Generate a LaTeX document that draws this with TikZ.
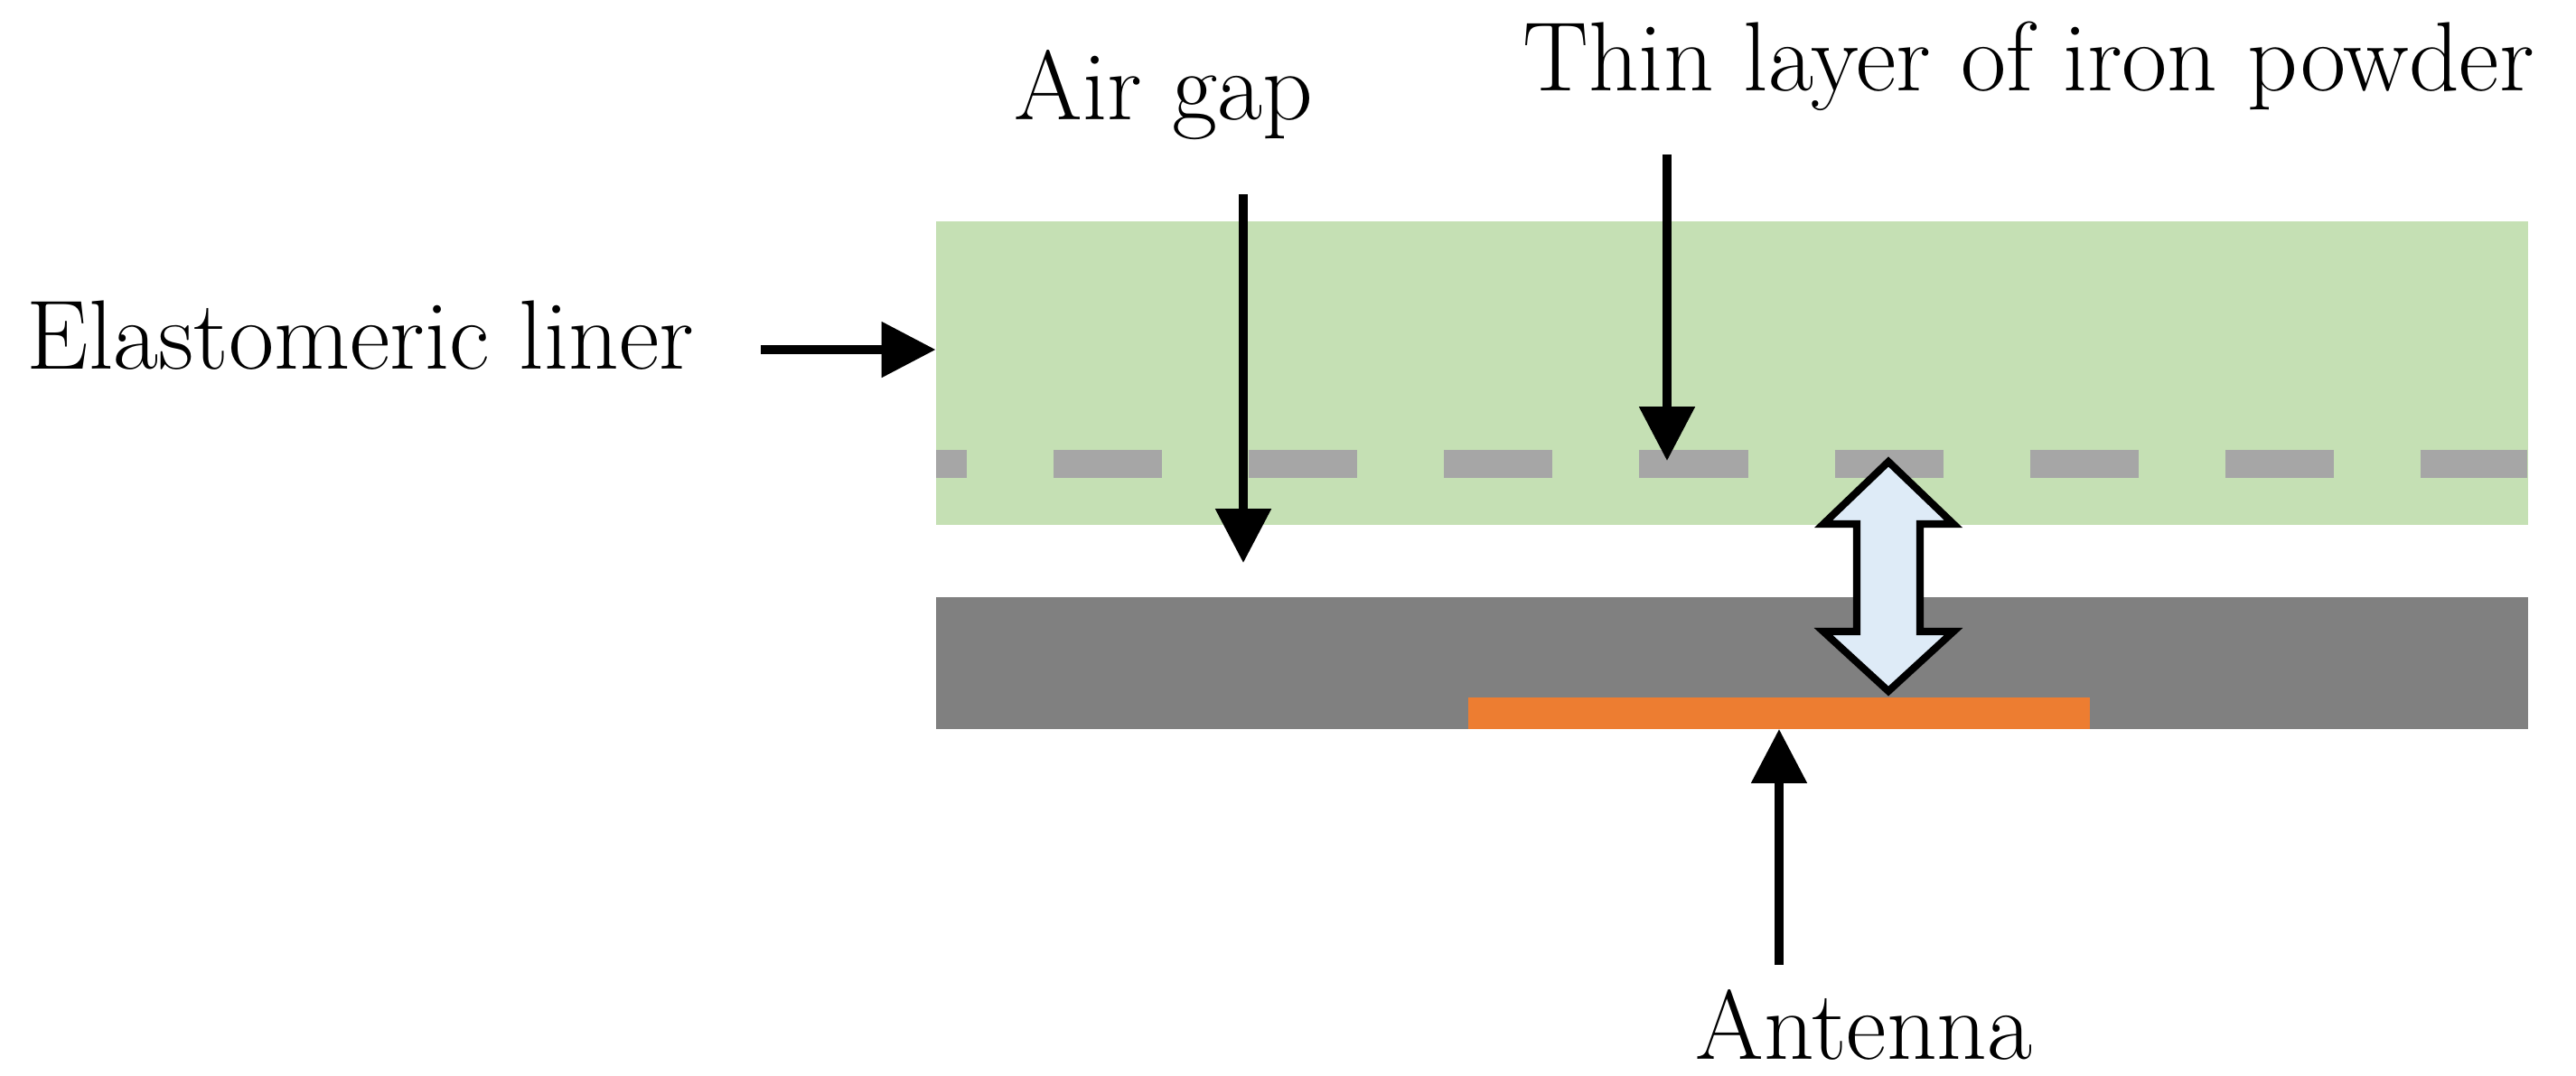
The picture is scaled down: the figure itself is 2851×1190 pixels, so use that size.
\documentclass[tikz,border=0pt]{standalone}
\usetikzlibrary{arrows.meta}
\definecolor{linergreen}{RGB}{197,224,180}
\definecolor{powdergray}{RGB}{166,166,166}
\definecolor{basegray}{RGB}{128,128,128}
\definecolor{antorange}{RGB}{237,125,49}
\definecolor{gapblue}{RGB}{222,235,247}
\tikzset{
  lbl/.style={font=\fontsize{31}{36}\selectfont, inner sep=0pt, anchor=base},
  ptr/.style={line width=2.6pt, -{Triangle[width=17pt,length=17pt]}},
  layer/.style={draw=none, inner sep=0pt, outer sep=0pt, rectangle}
}
\begin{document}
\begin{tikzpicture}[x=0.01cm, y=-0.01cm]
\useasboundingbox (0,0) rectangle (2851,1190);
% layers
\node[layer, fill=linergreen, minimum width=17.61cm, minimum height=3.36cm] (liner) at (1916.5,413) {};
\node[layer, fill=basegray, minimum width=17.61cm, minimum height=1.46cm] (base) at (1916.5,734) {};
\node[layer, fill=antorange, minimum width=6.88cm, minimum height=0.35cm] (antenna) at (1969,789.5) {};
% iron powder dashed layer
\coordinate (powL) at (1036,513.5);
\coordinate (powR) at (2797,513.5);
\draw[powdergray, line width=8.8pt, dash pattern=on 1.20cm off 0.96cm, dash phase=0.86cm] (powL) -- (powR);
% double arrow (gap)
\draw[fill=gapblue, line width=2.3pt, line join=miter]
  (2090,511) -- (2162,580) -- (2125,580) -- (2125,699) -- (2162,699)
  -- (2090,765) -- (2018,699) -- (2055,699) -- (2055,580) -- (2018,580) -- cycle;
% labels
\node[lbl] (tAir) at (1288,132) {Air gap};
\node[lbl] (tThin) at (2245,100) {Thin layer of iron powder};
\node[lbl] (tLiner) at (399,408) {Elastomeric liner};
\node[lbl] (tAnt) at (2063,1172) {Antenna};
% pointer coordinates
\coordinate (airS) at (1376,215);
\coordinate (airE) at (1376,623);
\coordinate (thinS) at (1845,171);
\coordinate (thinE) at (1845,510);
\coordinate (linS) at (842,387);
\coordinate (antS) at (1969,1068);
% pointers
\draw[ptr] (airS) -- (airE);
\draw[ptr] (thinS) -- (thinE);
\draw[ptr] (linS) -- (liner.west |- linS);
\draw[ptr] (antS) -- (antenna.south);
\end{tikzpicture}
\end{document}
